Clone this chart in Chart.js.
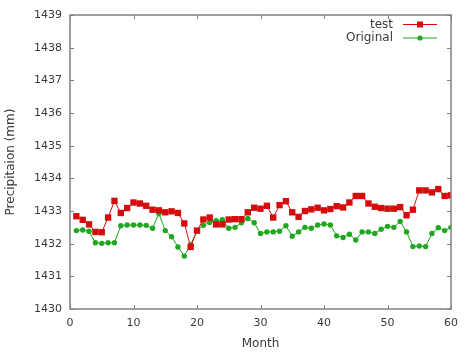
<!DOCTYPE html>
<html>
<head>
<meta charset="utf-8">
<script src="https://cdn.jsdelivr.net/npm/chart.js@4/dist/chart.umd.min.js"></script>
<style>
html,body{margin:0;padding:0;background:#fff;}
#wrap{width:474px;height:355px;position:relative;}
</style>
</head>
<body>
<div id="wrap"><canvas id="c" width="474" height="355"></canvas></div>
<script>
const months = Array.from({length: 60}, (_, i) => i + 1);
const testValues = [
  1432.84, 1432.73, 1432.59, 1432.36, 1432.35, 1432.80, 1433.31, 1432.94, 1433.09, 1433.26,
  1433.23, 1433.16, 1433.04, 1433.02, 1432.96, 1432.99, 1432.94, 1432.62, 1431.90, 1432.40,
  1432.74, 1432.80, 1432.59, 1432.59, 1432.74, 1432.75, 1432.75, 1432.96, 1433.10, 1433.07,
  1433.16, 1432.80, 1433.18, 1433.30, 1432.96, 1432.82, 1433.00, 1433.05, 1433.10, 1433.02,
  1433.06, 1433.15, 1433.11, 1433.26, 1433.46, 1433.46, 1433.23, 1433.13, 1433.09, 1433.07,
  1433.07, 1433.12, 1432.87, 1433.04, 1433.63, 1433.63, 1433.57, 1433.67, 1433.46, 1433.48
];
const originalValues = [
  1432.40, 1432.42, 1432.38, 1432.03, 1432.01, 1432.03, 1432.03, 1432.55, 1432.57, 1432.57,
  1432.57, 1432.56, 1432.47, 1432.92, 1432.40, 1432.21, 1431.90, 1431.62, 1431.97, 1432.40,
  1432.56, 1432.65, 1432.70, 1432.73, 1432.47, 1432.50, 1432.64, 1432.77, 1432.64, 1432.31,
  1432.36, 1432.36, 1432.38, 1432.55, 1432.23, 1432.36, 1432.50, 1432.47, 1432.57, 1432.60,
  1432.57, 1432.24, 1432.19, 1432.29, 1432.11, 1432.36, 1432.36, 1432.31, 1432.44, 1432.53,
  1432.50, 1432.68, 1432.36, 1431.91, 1431.93, 1431.91, 1432.31, 1432.49, 1432.40, 1432.50
];
const xTicks = [0, 10, 20, 30, 40, 50, 60];
const yTicks = [1430, 1431, 1432, 1433, 1434, 1435, 1436, 1437, 1438, 1439];
const seriesNames = ['test', 'Original'];

const FONT = 'DejaVu Sans';
const TXT = '#3a3a3a';
const FRAME = '#808080';
const RED = '#d40c0c';
const GREEN = '#1fa81f';

const framePlugin = {
  id: 'frame',
  afterDraw(chart) {
    const ctx = chart.ctx, a = chart.chartArea;
    const xs = chart.scales.x, ys = chart.scales.y;
    ctx.save();
    ctx.strokeStyle = FRAME;
    ctx.lineWidth = 1.5;
    ctx.strokeRect(a.left, a.top, a.right - a.left, a.bottom - a.top);
    ctx.lineWidth = 1;
    const tl = 4;
    ctx.beginPath();
    xTicks.forEach(v => {
      const x = Math.round(xs.getPixelForValue(v)) + 0.5;
      ctx.moveTo(x, a.bottom); ctx.lineTo(x, a.bottom - tl);
      ctx.moveTo(x, a.top); ctx.lineTo(x, a.top + tl);
    });
    yTicks.forEach(v => {
      const y = Math.round(ys.getPixelForValue(v)) + 0.5;
      ctx.moveTo(a.left, y); ctx.lineTo(a.left + tl, y);
      ctx.moveTo(a.right, y); ctx.lineTo(a.right - tl, y);
    });
    ctx.stroke();
    // legend
    ctx.font = '12px "' + FONT + '"';
    ctx.textAlign = 'right';
    ctx.textBaseline = 'middle';
    const rows = [
      {name: seriesNames[0], y: 24.5, col: RED, style: 'rect'},
      {name: seriesNames[1], y: 38, col: GREEN, style: 'circle'}
    ];
    rows.forEach(r => {
      ctx.fillStyle = TXT;
      ctx.fillText(r.name, 393, r.y);
      ctx.strokeStyle = r.col;
      ctx.lineWidth = 1;
      ctx.beginPath();
      ctx.moveTo(403, r.y); ctx.lineTo(437, r.y);
      ctx.stroke();
      ctx.fillStyle = r.col;
      if (r.style === 'rect') {
        ctx.fillRect(420 - 3, r.y - 3, 6, 6);
      } else {
        ctx.beginPath(); ctx.arc(420, r.y, 2.6, 0, Math.PI * 2); ctx.fill();
      }
    });
    ctx.restore();
  }
};

new Chart(document.getElementById('c'), {
  type: 'line',
  data: {
    datasets: [
      {
        label: seriesNames[0],
        data: months.map((m, i) => ({x: m, y: testValues[i]})),
        borderColor: RED,
        backgroundColor: RED,
        borderWidth: 1,
        pointStyle: 'rect',
        pointRadius: 4.5,
        pointBorderWidth: 0,
        tension: 0,
        fill: false
      },
      {
        label: seriesNames[1],
        data: months.map((m, i) => ({x: m, y: originalValues[i]})),
        borderColor: GREEN,
        backgroundColor: GREEN,
        borderWidth: 1,
        pointStyle: 'circle',
        pointRadius: 2.7,
        pointBorderWidth: 0,
        tension: 0,
        fill: false
      }
    ]
  },
  options: {
    responsive: false,
    animation: false,
    devicePixelRatio: 1,
    layout: {padding: {left: 4, right: 23, top: 15, bottom: 0}},
    plugins: {legend: {display: false}, tooltip: {enabled: false}},
    scales: {
      x: {
        type: 'linear',
        min: 0, max: 60,
        afterBuildTicks: s => { s.ticks = xTicks.map(v => ({value: v})); },
        afterFit: s => { s.height = 46; },
        grid: {display: false, drawTicks: false},
        border: {display: false},
        ticks: {color: TXT, font: {family: FONT, size: 11}, padding: 8, maxRotation: 0,
                callback: v => String(v)},
        title: {display: true, text: 'Month', color: TXT, font: {family: FONT, size: 12}, padding: {top: 4, bottom: 4}}
      },
      y: {
        type: 'linear',
        min: 1430, max: 1439,
        afterBuildTicks: s => { s.ticks = yTicks.map(v => ({value: v})); },
        afterFit: s => { s.width = 66; },
        grid: {display: false, drawTicks: false},
        border: {display: false},
        ticks: {color: TXT, font: {family: FONT, size: 11}, padding: 8,
                callback: v => String(v)},
        title: {display: true, text: 'Precipitaion (mm)', color: TXT, font: {family: FONT, size: 12}, padding: {top: 0, bottom: 0}}
      }
    }
  },
  plugins: [framePlugin]
});
</script>
</body>
</html>
